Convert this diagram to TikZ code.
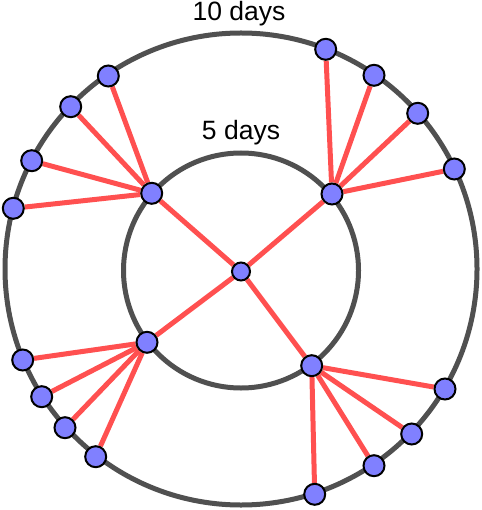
\documentclass[tikz,border=0pt]{standalone}
\usepackage{fontspec}
\setmainfont{Liberation Sans}
\usetikzlibrary{backgrounds}
\definecolor{ringgray}{RGB}{80,80,80}
\definecolor{linkred}{RGB}{255,80,80}
\definecolor{dotblue}{RGB}{128,128,255}
\tikzset{
  ring/.style={draw=ringgray,line width=5pt},
  link/.style={draw=linkred,line width=5pt},
  dot/.style={circle,draw=black,line width=2pt,fill=dotblue,minimum size=21pt,inner sep=0pt},
  hub/.style={dot,minimum size=18pt},
  lbl/.style={anchor=base,font=\fontsize{26.5}{31}\selectfont,inner sep=0pt}
}
\begin{document}
\begin{tikzpicture}[x=1pt,y=-1pt]
\useasboundingbox (0,0) rectangle (481,510);
\node[hub] (c) at (241,271.5) {};
\node[dot] (A) at (151.7,193.3) {};
\node[dot] (B) at (332,194) {};
\node[dot] (C) at (147,342.3) {};
\node[dot] (D) at (311.7,365.7) {};
\node[dot] (A1) at (108.3,76) {};
\node[dot] (A2) at (70.7,106.7) {};
\node[dot] (A3) at (31.7,160.7) {};
\node[dot] (A4) at (13.3,208.3) {};
\node[dot] (B1) at (325.7,49.3) {};
\node[dot] (B2) at (374,75.3) {};
\node[dot] (B3) at (417.7,113.3) {};
\node[dot] (B4) at (454.3,169) {};
\node[dot] (C1) at (22.7,360) {};
\node[dot] (C2) at (41.7,396.7) {};
\node[dot] (C3) at (65,427.7) {};
\node[dot] (C4) at (95.7,456.7) {};
\node[dot] (D1) at (445,389) {};
\node[dot] (D2) at (411.7,434) {};
\node[dot] (D3) at (374,465.7) {};
\node[dot] (D4) at (314.7,494.3) {};
\node[lbl] (t10) at (239,20.5) {10 days};
\node[lbl] (t5) at (241,139.5) {5 days};
\begin{pgfonlayer}{background}
\coordinate (oc) at (241,269);
\coordinate (ic) at (241,270.5);
\draw[ring] (oc) circle[radius=236];
\draw[ring] (ic) circle[radius=117.5];
\foreach \h in {A,B,C,D}{
  \draw[link] (c) -- (\h);
  \foreach \i in {1,2,3,4}{ \draw[link] (\h) -- (\h\i); }
}
\end{pgfonlayer}
\end{tikzpicture}
\end{document}
